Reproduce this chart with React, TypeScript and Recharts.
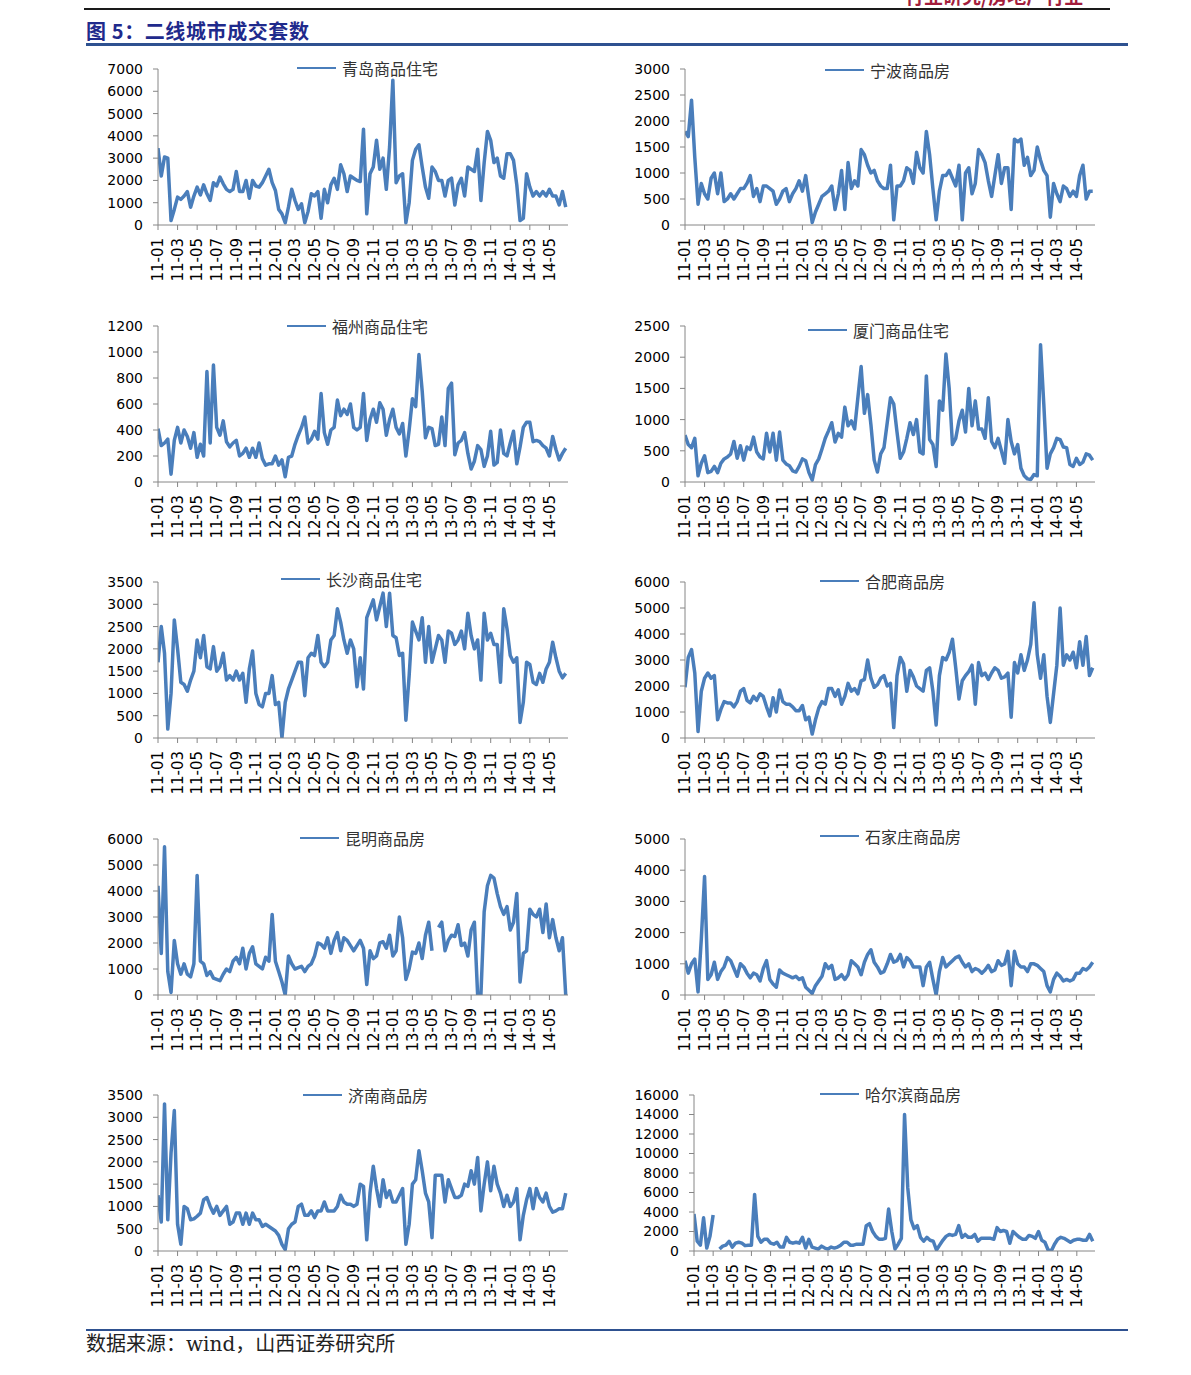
import React from "react";
import { Legend, Line, LineChart, XAxis, YAxis } from "recharts";

// 横轴刻度：每两个月一个标签
const monthTicks = [
  "11-01", "11-03", "11-05", "11-07", "11-09", "11-11",
  "12-01", "12-03", "12-05", "12-07", "12-09", "12-11",
  "13-01", "13-03", "13-05", "13-07", "13-09", "13-11",
  "14-01", "14-03", "14-05",
];

// 各城市成交套数（约每旬一个点，自 2011-01 起）
const qingdao = [
  3450, 2200, 3050, 3000, 200, 700, 1250, 1150, 1300, 1500, 800, 1300,
  1700, 1350, 1800, 1400, 1100, 1900, 1750, 2150, 1850, 1600, 1500, 1600,
  2400, 1500, 1500, 2000, 1200, 2000, 1750, 1700, 1900, 2200, 2500, 1900,
  1550, 700, 500, 100, 800, 1600, 1100, 700, 950, 100, 600, 1400,
  1300, 1500, 300, 1600, 1000, 1800, 2100, 1600, 2700, 2300, 1500, 2200,
  2100, 2000, 1950, 4300, 500, 2300, 2600, 3800, 2500, 3000, 1600, 3500,
  6500, 1900, 2200, 2300, 100, 1000, 2900, 3400, 3600, 2600, 1700, 1200,
  2600, 2400, 2000, 2000, 1300, 2000, 2100, 900, 1800, 2100, 1300, 2600,
  2500, 2400, 3400, 1100, 2800, 4200, 3800, 2800, 3000, 2200, 2100, 3200,
  3200, 2900, 1800, 200, 300, 2300, 1700, 1300, 1500, 1300, 1500, 1300,
  1600, 1300, 1300, 900, 1500, 800,
];
const ningbo = [
  1800, 1700, 2400, 1300, 400, 800, 600, 500, 900, 1000, 600, 1000,
  450, 500, 600, 500, 600, 700, 700, 800, 950, 550, 700, 450,
  750, 750, 700, 650, 400, 500, 650, 700, 450, 600, 700, 850,
  650, 950, 500, 50, 250, 400, 550, 600, 650, 750, 300, 600,
  1050, 300, 1200, 700, 850, 750, 1450, 1350, 1150, 1000, 1050, 850,
  750, 700, 700, 1150, 100, 750, 750, 850, 1100, 1050, 800, 1400,
  1100, 1000, 1800, 1350, 700, 100, 650, 950, 950, 1050, 900, 750,
  1150, 100, 1000, 1100, 600, 800, 1450, 1350, 1200, 850, 550, 950,
  1350, 800, 1100, 1100, 300, 1650, 1600, 1650, 1150, 1300, 950, 1050,
  1500, 1250, 1050, 950, 150, 800, 600, 450, 750, 700, 550, 650,
  550, 950, 1150, 500, 650, 650,
];
const fuzhou = [
  410, 280, 300, 330, 60, 320, 420, 300, 400, 350, 260, 380,
  190, 290, 200, 850, 300, 900, 420, 360, 470, 310, 270, 300,
  320, 200, 220, 260, 190, 260, 190, 300, 180, 130, 140, 140,
  200, 130, 170, 40, 190, 200, 290, 360, 420, 500, 300, 330,
  390, 330, 680, 380, 290, 400, 420, 630, 510, 560, 520, 600,
  420, 400, 420, 680, 320, 480, 560, 460, 610, 560, 360, 480,
  560, 420, 370, 450, 200, 400, 640, 580, 980, 700, 340, 420,
  410, 280, 290, 500, 280, 720, 760, 210, 300, 320, 380, 220,
  100, 160, 280, 250, 120, 200, 390, 130, 150, 400, 220, 200,
  300, 390, 140, 270, 420, 460, 460, 310, 320, 310, 280, 260,
  200, 350, 250, 170, 220, 260,
];
const xiamen = [
  750, 600, 550, 700, 100, 300, 420, 150, 170, 250, 150, 300,
  370, 400, 450, 650, 380, 580, 350, 560, 520, 720, 480, 400,
  370, 780, 480, 780, 350, 800, 350, 290, 260, 180, 160, 250,
  370, 340, 150, 30, 280, 370, 530, 700, 820, 950, 640, 780,
  720, 1200, 900, 980, 850, 1350, 1850, 1100, 1400, 920, 350, 160,
  450, 550, 950, 1350, 1250, 800, 380, 480, 700, 950, 760, 1000,
  480, 450, 1700, 680, 600, 250, 1300, 1150, 2050, 1500, 600, 700,
  980, 1150, 800, 1500, 900, 1300, 850, 850, 700, 1350, 650, 550,
  700, 500, 300, 1000, 650, 450, 600, 220, 100, 50, 40, 120,
  100, 2200, 1250, 220, 450, 550, 700, 680, 560, 550, 280, 250,
  380, 280, 320, 450, 430, 350,
];
const changsha = [
  1700, 2500, 1900, 200, 1000, 2650, 2000, 1250, 1200, 1050, 1300, 1500,
  2200, 1800, 2300, 1600, 1550, 2050, 1500, 1600, 1900, 1300, 1400, 1300,
  1500, 1300, 1450, 800, 1550, 1950, 1000, 750, 700, 1000, 1000, 1400,
  750, 800, 0, 800, 1100, 1300, 1500, 1700, 1700, 950, 1800, 1900,
  1850, 2300, 1700, 1600, 1700, 2200, 2300, 2900, 2600, 2200, 1900, 2200,
  2000, 1150, 1800, 1100, 2700, 2900, 3100, 2650, 2950, 3250, 2500, 3250,
  2300, 2250, 1850, 1900, 400, 1400, 2600, 2400, 2200, 2700, 1700, 2500,
  1700, 2000, 2300, 2200, 1700, 2400, 2350, 2100, 2200, 2400, 2000, 2800,
  2300, 2000, 2200, 1300, 2800, 2200, 2350, 2100, 2100, 1250, 2900, 2450,
  1850, 1700, 1800, 350, 800, 1700, 1650, 1250, 1200, 1450, 1250, 1550,
  1700, 2150, 1800, 1500, 1350, 1450,
];
const hefei = [
  1950, 3100, 3400, 2500, 250, 1800, 2300, 2500, 2300, 2400, 700, 1100,
  1400, 1350, 1350, 1200, 1400, 1800, 1900, 1450, 1350, 1600, 1450, 1700,
  1600, 1200, 850, 1550, 1000, 1850, 1400, 1300, 1300, 1200, 1050, 1050,
  1250, 700, 800, 150, 700, 1150, 1400, 1300, 1900, 1900, 1600, 1850,
  1300, 1600, 2100, 1800, 1900, 1700, 2200, 2250, 3000, 2300, 1950, 2050,
  2300, 2400, 2000, 2100, 400, 2400, 3100, 2850, 1800, 2600, 2350, 2000,
  1900, 1800, 2600, 2700, 1800, 500, 2400, 3100, 3000, 3300, 3800, 2700,
  1500, 2200, 2400, 2550, 2800, 1300, 2900, 2400, 2500, 2250, 2500, 2700,
  2600, 2300, 2350, 2500, 800, 2900, 2500, 3200, 2600, 3000, 3600, 5200,
  3200, 2300, 3200, 1600, 600, 1700, 2800, 5000, 2800, 3200, 3000, 3300,
  2700, 3700, 2800, 3900, 2400, 2700,
];
const kunming = [
  4200, 1600, 5700, 900, 100, 2100, 1200, 800, 1200, 800, 700, 1200,
  4600, 1300, 1200, 750, 900, 650, 600, 550, 800, 1000, 900, 1300,
  1450, 1200, 1800, 1000, 1600, 1850, 1200, 1100, 1000, 1450, 1300, 3100,
  1300, 900, 500, 0, 1500, 1200, 1000, 1050, 1100, 900, 1100, 1200,
  1500, 2000, 1950, 1800, 2200, 1600, 2100, 2400, 1700, 2200, 2100, 1900,
  1700, 1900, 2100, 1800, 400, 1700, 1400, 1500, 2000, 2050, 1800, 2300,
  1500, 1700, 3000, 2200, 600, 1000, 1650, 1600, 2000, 1400, 2300, 2800,
  1700, null, 2600, 2800, 1700, 2100, 2300, 2250, 2700, 1900, 2000, 1500,
  2500, 2800, 0, 0, 3200, 4200, 4600, 4500, 3900, 3400, 3100, 3400,
  2500, 2800, 3900, 500, 1600, 1700, 3300, 3100, 3000, 3300, 2400, 3500,
  2200, 2900, 2200, 1700, 2200, 0,
];
const shijiazhuang = [
  1100, 700, 1000, 1150, 100, 1800, 3800, 500, 650, 1050, 500, 750,
  900, 1200, 1100, 850, 600, 1000, 900, 700, 550, 700, 650, 450,
  850, 1100, 500, 350, 250, 800, 700, 650, 600, 550, 600, 500,
  550, 250, 150, 50, 300, 450, 600, 1000, 850, 950, 500, 550,
  650, 500, 650, 1100, 1000, 900, 650, 1050, 1300, 1450, 1050, 900,
  700, 750, 1000, 1300, 1050, 1100, 1300, 900, 1200, 1100, 900, 900,
  900, 300, 900, 1050, 500, 0, 750, 1200, 900, 1000, 1100, 1200,
  1250, 1050, 900, 1000, 750, 850, 800, 700, 800, 950, 750, 800,
  1100, 950, 1000, 1400, 300, 1400, 1000, 900, 900, 750, 1000, 1000,
  950, 850, 750, 300, 100, 500, 700, 600, 450, 500, 450, 500,
  700, 700, 850, 800, 900, 1050,
];
const jinan = [
  1250, 650, 3300, 700, 2200, 3150, 600, 150, 1000, 950, 700, 720,
  780, 850, 1150, 1200, 1000, 850, 1000, 800, 900, 1000, 600, 650,
  850, 850, 600, 850, 600, 850, 700, 700, 550, 600, 550, 500,
  450, 350, 150, 30, 500, 600, 650, 1000, 1050, 800, 800, 900,
  750, 900, 900, 1100, 900, 900, 900, 1000, 1250, 1100, 1050, 1050,
  1000, 1050, 1500, 1450, 250, 1300, 1900, 1400, 1000, 1600, 1200, 1350,
  1100, 1100, 1250, 1400, 150, 600, 1500, 1600, 2250, 1800, 1300, 1100,
  300, 1700, 1700, 1700, 1100, 1600, 1400, 1200, 1200, 1250, 1500, 1450,
  1800, 1500, 2100, 900, 1500, 2000, 1350, 1900, 1500, 1300, 1000, 1250,
  1000, 1100, 1400, 250, 800, 1150, 1400, 950, 1400, 1200, 1100, 1300,
  1000, 870, 900, 950, 950, 1300,
];
const harbin = [
  3800, 1000, 600, 3400, 300, 1500, 3700, null, 200, 500, 600, 1000,
  400, 800, 900, 800, 550, 600, 600, 5800, 1500, 900, 1200, 1200,
  800, 700, 900, 400, 400, 1400, 900, 800, 900, 800, 1400, 300,
  1200, 400, 300, 200, 500, 300, 200, 400, 300, 400, 600, 900,
  900, 600, 600, 700, 700, 700, 2600, 2800, 2000, 1500, 1200, 1200,
  1300, 4300, 2000, 200, 700, 1300, 14000, 6500, 3200, 2300, 2600, 1400,
  1000, 1400, 1100, 1000, 100, 600, 1100, 1500, 1700, 1600, 1700, 2600,
  1400, 1700, 1400, 1400, 1700, 1000, 1300, 1300, 1300, 1300, 1200, 2400,
  2000, 2100, 2000, 800, 2000, 1700, 1400, 1200, 1200, 1600, 1500, 1300,
  2000, 1100, 900, 100, 0, 700, 1200, 1400, 1300, 1100, 900, 1100,
  1200, 1200, 1100, 1100, 1700, 1000,
];

// 纵轴刻度
const qingdaoTicks = [0, 1000, 2000, 3000, 4000, 5000, 6000, 7000];
const ningboTicks = [0, 500, 1000, 1500, 2000, 2500, 3000];
const fuzhouTicks = [0, 200, 400, 600, 800, 1000, 1200];
const xiamenTicks = [0, 500, 1000, 1500, 2000, 2500];
const changshaTicks = [0, 500, 1000, 1500, 2000, 2500, 3000, 3500];
const hefeiTicks = [0, 1000, 2000, 3000, 4000, 5000, 6000];
const kunmingTicks = [0, 1000, 2000, 3000, 4000, 5000, 6000];
const shijiazhuangTicks = [0, 1000, 2000, 3000, 4000, 5000];
const jinanTicks = [0, 500, 1000, 1500, 2000, 2500, 3000, 3500];
const harbinTicks = [0, 2000, 4000, 6000, 8000, 10000, 12000, 14000, 16000];

const LINE = "#4a7ebb";
const AXIS = "#868686";
const COL_LEFT = [58, 585];
const PLOT_TOP = [69, 326, 582, 839, 1095];
const X_TICKS = monthTicks.map((_, i) => i * 2);

type Panel = {
  name: string;
  values: (number | null)[];
  yTicks: number[];
  col: number;
  row: number;
  legend: [number, number];
  axisWidth?: number;
};

const panels: Panel[] = [
  { name: "青岛商品住宅", values: qingdao, yTicks: qingdaoTicks, col: 0, row: 0, legend: [297, 68] },
  { name: "宁波商品房", values: ningbo, yTicks: ningboTicks, col: 1, row: 0, legend: [825, 70] },
  { name: "福州商品住宅", values: fuzhou, yTicks: fuzhouTicks, col: 0, row: 1, legend: [287, 326] },
  { name: "厦门商品住宅", values: xiamen, yTicks: xiamenTicks, col: 1, row: 1, legend: [808, 330] },
  { name: "长沙商品住宅", values: changsha, yTicks: changshaTicks, col: 0, row: 2, legend: [281, 579] },
  { name: "合肥商品房", values: hefei, yTicks: hefeiTicks, col: 1, row: 2, legend: [820, 581] },
  { name: "昆明商品房", values: kunming, yTicks: kunmingTicks, col: 0, row: 3, legend: [300, 838] },
  { name: "石家庄商品房", values: shijiazhuang, yTicks: shijiazhuangTicks, col: 1, row: 3, legend: [820, 836] },
  { name: "济南商品房", values: jinan, yTicks: jinanTicks, col: 0, row: 4, legend: [303, 1095] },
  { name: "哈尔滨商品房", values: harbin, yTicks: harbinTicks, col: 1, row: 4, legend: [820, 1094], axisWidth: 109 },
];

function MonthTick(props: any) {
  const { x, y, payload } = props;
  return (
    <text
      transform={`translate(${x},${y + 6}) rotate(-90)`}
      textAnchor="end"
      dy="0.35em"
      fontSize={15}
      fontFamily="DejaVu Sans"
      fill="#000"
    >
      {monthTicks[Math.round(payload.value / 2)]}
    </text>
  );
}

function CityChart({ p }: { p: Panel }) {
  const left = COL_LEFT[p.col];
  const top = PLOT_TOP[p.row] - 20;
  const data = p.values.map((v, i) => ({ m: i / 3, v }));
  const yMax = p.yTicks[p.yTicks.length - 1];
  return (
    <div style={{ position: "absolute", left, top }}>
      <LineChart width={520} height={246} data={data} margin={{ top: 20, right: 10, bottom: 0, left: 0 }}>
        <XAxis
          type="number"
          dataKey="m"
          domain={[0, 41.9]}
          ticks={X_TICKS}
          interval={0}
          allowDataOverflow
          height={70}
          tickSize={5}
          axisLine={{ stroke: AXIS }}
          tickLine={{ stroke: AXIS }}
          tick={(props: any) => <MonthTick {...props} />}
        />
        <YAxis
          width={p.axisWidth ?? 100}
          domain={[0, yMax]}
          ticks={p.yTicks}
          interval={0}
          allowDataOverflow
          tickSize={5}
          tickMargin={10}
          axisLine={{ stroke: AXIS }}
          tickLine={{ stroke: AXIS }}
          tick={{ fontSize: 14, fill: "#000", fontFamily: "DejaVu Sans" }}
        />
        <Legend
          layout="horizontal"
          verticalAlign="middle"
          align="center"
          wrapperStyle={{ left: p.legend[0] - left, top: p.legend[1] - top - 11, width: "auto" }}
          content={() => (
            <div style={{ display: "flex", alignItems: "center", height: 22, whiteSpace: "nowrap" }}>
              <span style={{ display: "inline-block", width: 39, height: 2, background: LINE, marginRight: 6 }} />
              <span style={{ fontSize: 16, color: "#333", fontFamily: "'Noto Sans CJK SC', serif" }}>{p.name}</span>
            </div>
          )}
        />
        <Line
          type="linear"
          dataKey="v"
          stroke={LINE}
          strokeWidth={3.5}
          strokeLinejoin="round"
          dot={false}
          activeDot={false}
          connectNulls={false}
          isAnimationActive={false}
        />
      </LineChart>
    </div>
  );
}

export default function App() {
  return (
    <div
      style={{
        position: "absolute",
        left: 0,
        top: 0,
        width: 1191,
        height: 1375,
        background: "#fff",
        overflow: "hidden",
        fontFamily: "'Noto Sans CJK SC', sans-serif",
      }}
    >
      {/* 页眉栏目名，顶端被页面边缘截去 */}
      <div style={{ position: "absolute", left: 905, top: -15, fontSize: 19, fontWeight: 700, color: "#a31d3c", lineHeight: "22px" }}>
        行业研究/房地产行业
      </div>
      <div style={{ position: "absolute", left: 84, top: 8, width: 1026, height: 2, background: "#1a1a1a" }} />
      <div
        style={{
          position: "absolute",
          left: 86,
          top: 19,
          fontSize: 20,
          fontWeight: 700,
          color: "#1f2a8c",
          lineHeight: "24px",
          letterSpacing: 0.6,
          whiteSpace: "nowrap",
        }}
      >
        图 5：二线城市成交套数
      </div>
      <div style={{ position: "absolute", left: 86, top: 43, width: 1042, height: 3, background: "#2e5190" }} />

      {panels.map((p) => (
        <CityChart key={p.name} p={p} />
      ))}

      <div style={{ position: "absolute", left: 86, top: 1329, width: 1042, height: 2, background: "#2e5190" }} />
      <div
        style={{
          position: "absolute",
          left: 86,
          top: 1332,
          fontSize: 20,
          color: "#222",
          lineHeight: "24px",
          whiteSpace: "nowrap",
          fontFamily: "'DejaVu Serif', 'Noto Sans CJK SC', serif",
        }}
      >
        数据来源：wind，山西证券研究所
      </div>
    </div>
  );
}
